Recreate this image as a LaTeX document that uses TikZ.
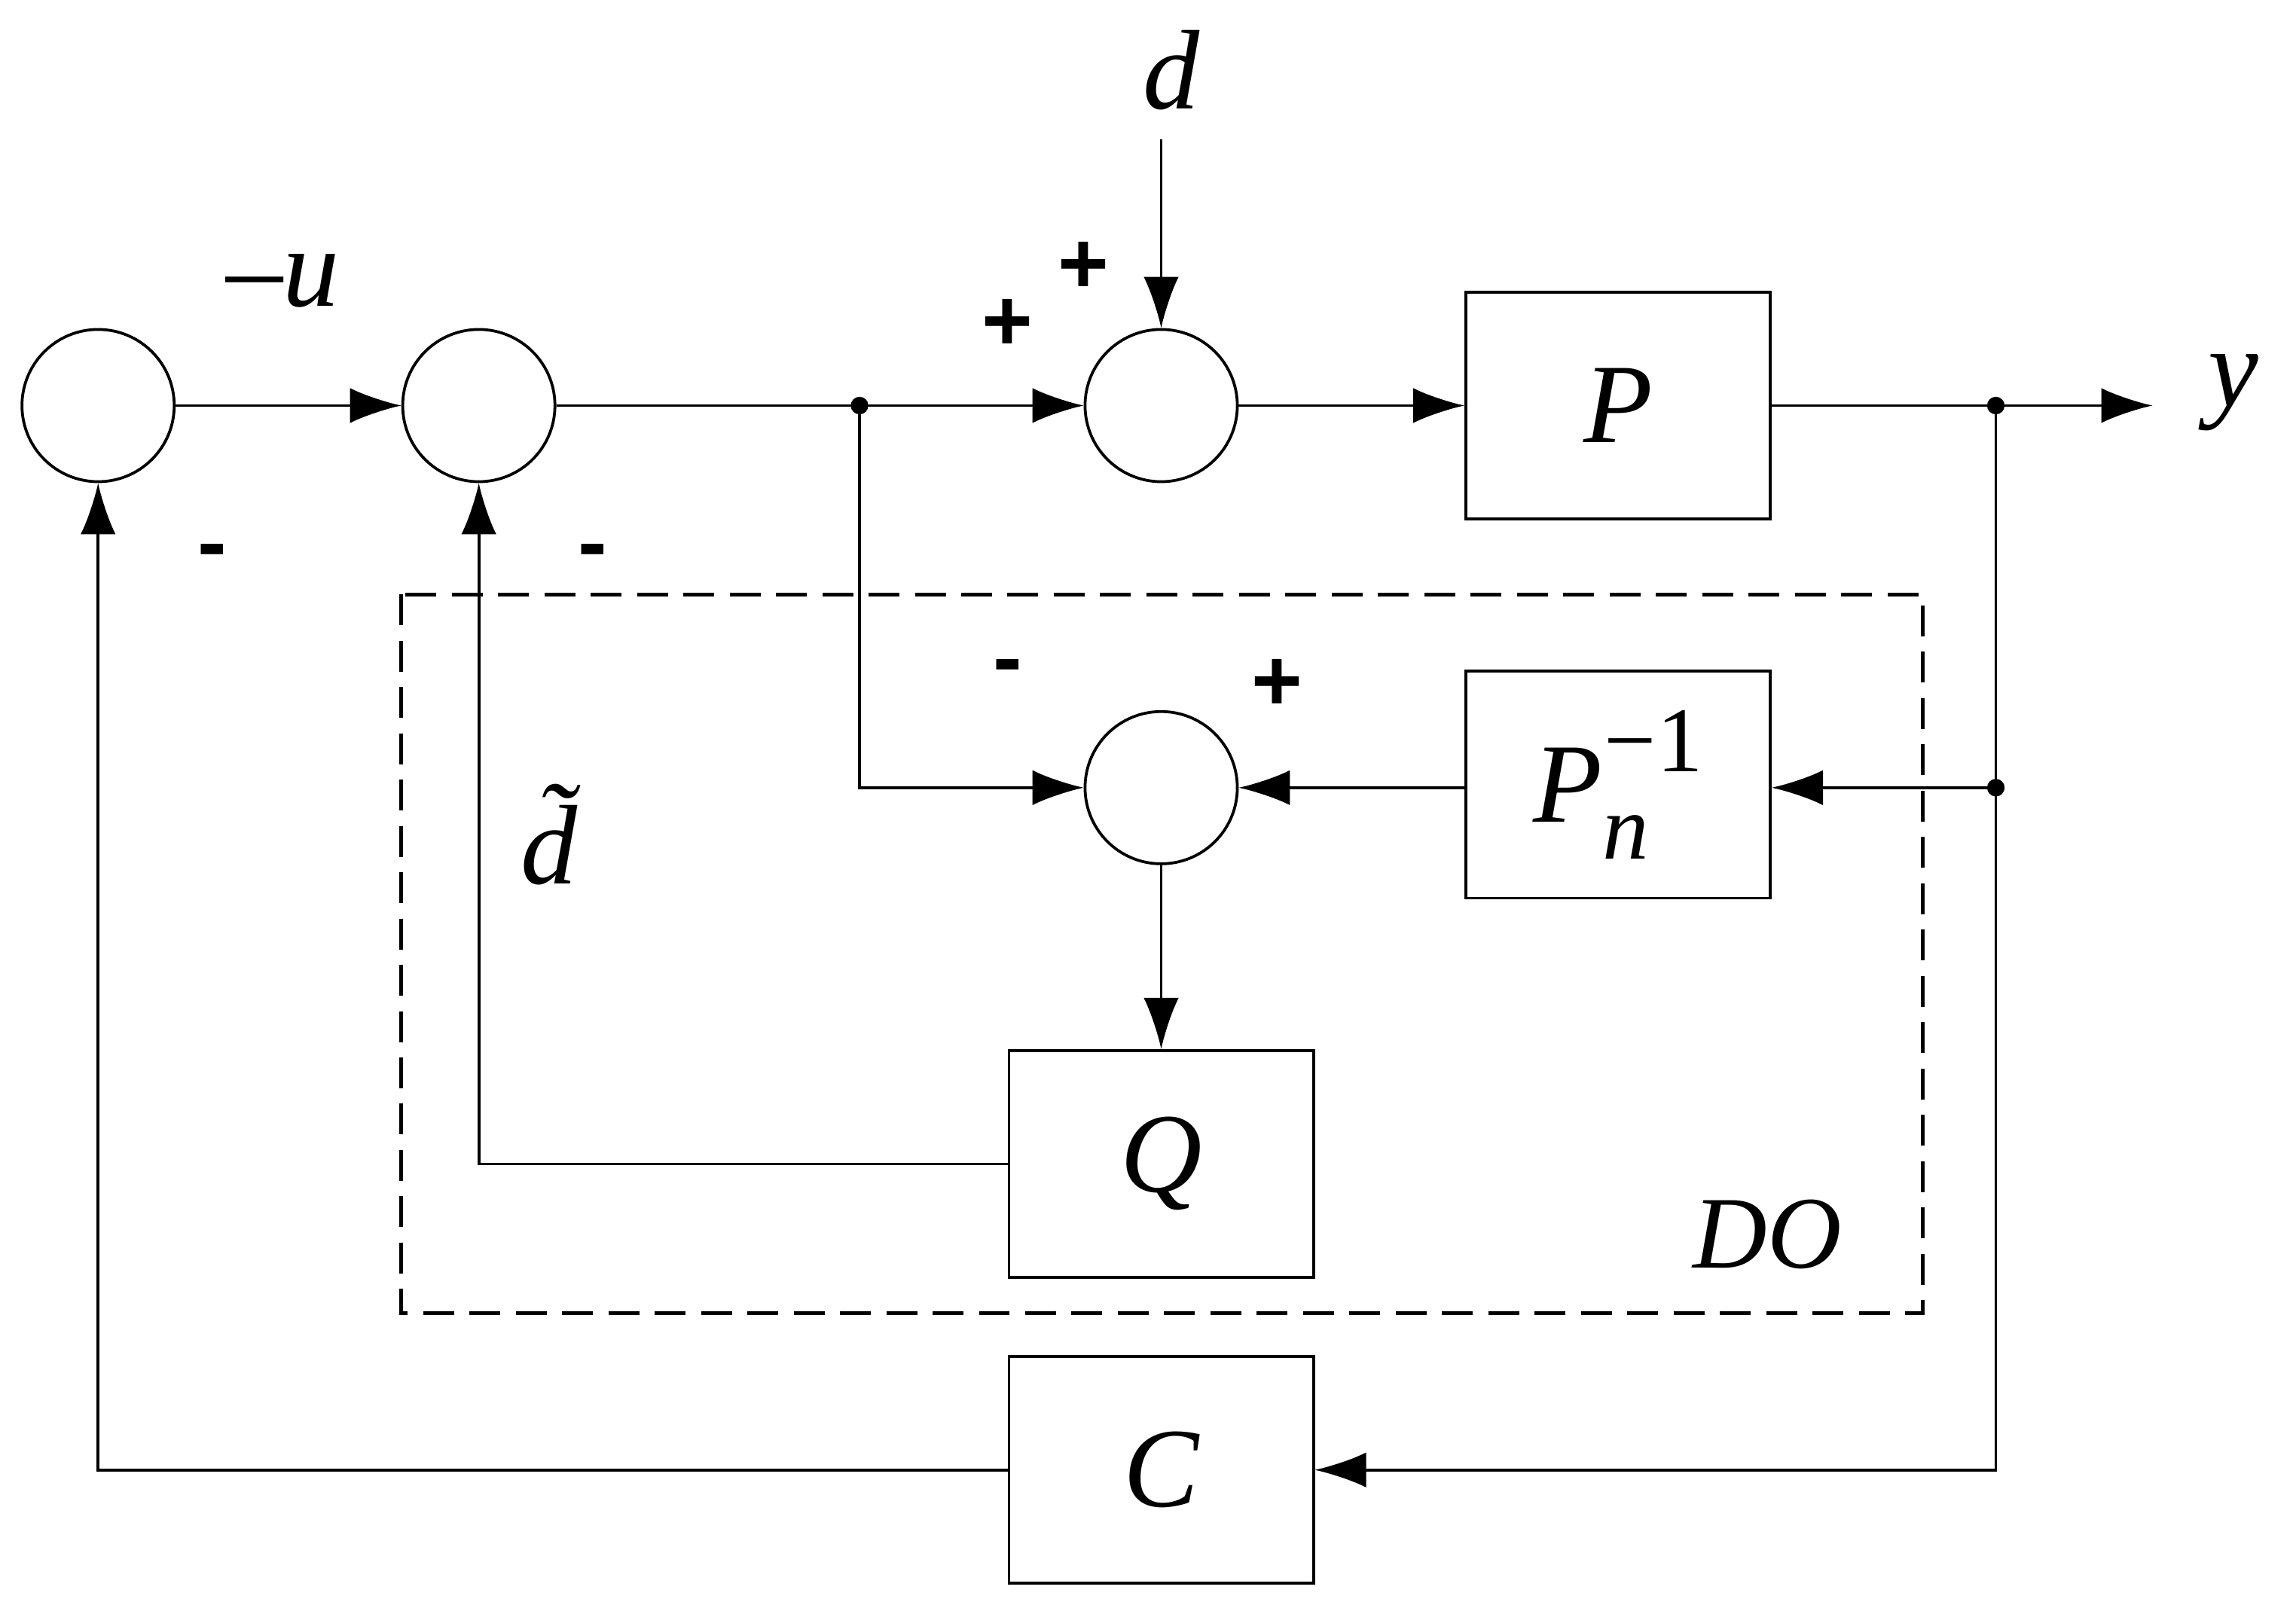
\documentclass[tikz,border=0pt]{standalone}
\usepackage{fontspec}
\setmainfont{Liberation Serif}
\newfontfamily\sgn{Liberation Sans}
\usetikzlibrary{arrows.meta}
\begin{document}
\begin{tikzpicture}[x=0.02cm,y=-0.02cm,line width=1.1pt,
  sum/.style={circle,draw,minimum size=2.08cm,inner sep=0},
  blk/.style={draw,minimum width=4.16cm,minimum height=3.1cm,inner sep=0,font=\fontsize{44}{50}\selectfont\itshape},
  lab/.style={font=\fontsize{44}{50}\selectfont\itshape},
  sg/.style={font=\fontsize{34}{40}\selectfont\sgn\bfseries},
  arr/.style={-{Latex[length=0.7cm,width=0.48cm]}},
  dot/.style={circle,fill,inner sep=0,minimum size=0.24cm}]
\useasboundingbox (0,0) rectangle (1568,1100);
\node[sum] (s1) at (67,277) {};
\node[sum] (s2) at (327,277) {};
\node[sum] (s3) at (793,277) {};
\node[sum] (s4) at (793,538) {};
\node[blk] (P) at (1105,277) {P};
\node[blk] (Pn) at (1105,536) {P\makebox[0pt][l]{\fontsize{36}{40}\selectfont\raisebox{-0.4em}{n}}\raisebox{0.45em}{\fontsize{36}{40}\selectfont\upshape\kern0.02em−1}};
\node[blk] (Q) at (793,795) {Q};
\node[blk] (C) at (793,1004) {C};
\node[dot] (j1) at (587,277) {};
\node[dot] (j2) at (1363,277) {};
\node[dot] (j3) at (1363,538) {};
\coordinate (din) at (793,95);
\coordinate (yout) at (1470,277);
\node[lab] at (800,48) {d};
\node[lab] at (1525,268) {y};
\node[lab] at (193,192) {\upshape–\itshape u};
\node[lab] at (375,570) {\~{d}};
\node[lab,font=\fontsize{40}{46}\selectfont\itshape] at (1207,843) {DO};
\node[sg] at (688,222) {+};
\node[sg] at (740,183) {+};
\node[sg] at (872,468) {+};
\node[sg] at (145,381) {-};
\node[sg] at (405,381) {-};
\node[sg] at (688,460) {-};
\draw[line width=1.6pt,dash pattern=on 12pt off 6pt] (274,406) rectangle (1313,897);
\draw[arr] (s1) -- (s2);
\draw (s2) -- (j1.center);
\draw[arr] (j1.center) -- (s3);
\draw[arr] (din) -- (s3);
\draw[arr] (s3) -- (P);
\draw (P) -- (j2.center);
\draw[arr] (j2.center) -- (yout);
\draw[arr] (j1.center) |- (s4);
\draw[arr] (j2.center) -- (j3.center) -- (Pn.east |- j3);
\draw[arr] (Pn.west |- s4) -- (s4);
\draw[arr] (s4) -- (Q);
\draw[arr] (Q.west) -| (s2.south);
\draw[arr] (j3.center) |- (C.east);
\draw[arr] (C.west) -| (s1.south);
\end{tikzpicture}
\end{document}
